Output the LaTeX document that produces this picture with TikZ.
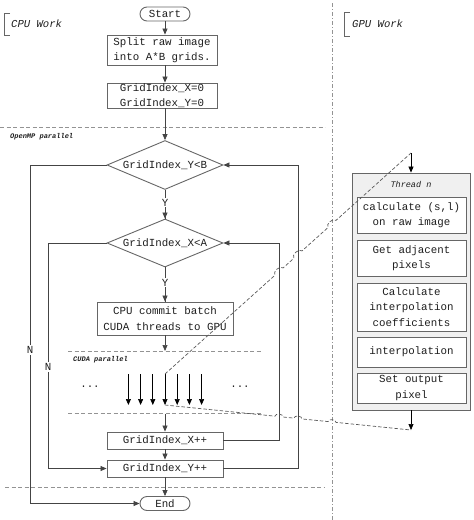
\documentclass[tikz,border=0pt]{standalone}
\usepackage{fontspec}
\setmonofont{Liberation Mono}
\usetikzlibrary{shapes.geometric,arrows.meta,calc}
\definecolor{bordercol}{HTML}{666666}
\definecolor{linecol}{HTML}{444444}
\definecolor{textcol}{HTML}{1E1E1E}
\definecolor{threadfill}{HTML}{F0F0F0}
\begin{document}
\begin{tikzpicture}[x=1pt,y=-1pt,
  font=\ttfamily\fontsize{10.8}{15.5}\selectfont,
  box/.style={draw=bordercol,line width=0.9pt,fill=white,align=center,inner sep=0pt,text=textcol},
  term/.style={box,rounded corners=7pt},
  dec/.style={box,diamond,aspect=2.37},
  arr/.style={draw=linecol,line width=0.7pt,-{Triangle[length=6pt,width=5pt]}},
  sepline/.style={draw=gray!85,line width=0.7pt,dash pattern=on 4pt off 2.5pt},
  dsh/.style={draw=gray!70!black,line width=0.7pt,dash pattern=on 3.5pt off 2pt},
  lbl/.style={fill=white,inner sep=1pt,text=textcol},
  ital/.style={font=\ttfamily\itshape\fontsize{10.6}{12}\selectfont,text=textcol,anchor=west,inner sep=0pt},
  small/.style={font=\ttfamily\bfseries\itshape\fontsize{7}{8}\selectfont,text=textcol,anchor=west,inner sep=0pt}
]
\useasboundingbox (0,0) rectangle (474,520);

% separators
\draw[sepline] (0,127) coordinate (s1a) -- (325,127) coordinate (s1b);
\draw[sepline] (68,351) coordinate (s2a) -- (262,351) coordinate (s2b);
\draw[sepline] (68,413) coordinate (s3a) -- (262,413) coordinate (s3b);
\draw[sepline] (5,487) coordinate (s4a) -- (325,487) coordinate (s4b);
\draw[draw=gray!85,line width=0.7pt,dash pattern=on 4pt off 2pt on 1pt off 2pt] (332,3) coordinate (va) -- (332,520) coordinate (vb);

% work labels
\draw[bordercol,line width=0.8pt] (10,13) -- (4,13) -- (4,35) -- (10,35);
\node[ital] (cpuw) at (11,24) {CPU Work};
\draw[bordercol,line width=0.8pt] (350,12) -- (344,12) -- (344,36) -- (350,36);
\node[ital] (gpuw) at (352,24) {GPU Work};
\node[small] (omp) at (10,137) {OpenMP parallel};
\node[small] (cuda) at (73,360) {CUDA parallel};

% main flow
\node[term,minimum width=50pt,minimum height=14pt] (start) at (165,14) {Start};
\node[box,minimum width=110pt,minimum height=30pt] (split) at (162,50) {Split raw image\\into A*B grids.};
\node[box,minimum width=110pt,minimum height=25pt] (grid) at (162,95.5) {GridIndex\_X=0\\GridIndex\_Y=0};
\node[dec,minimum width=116pt,minimum height=49pt] (yb) at (165,165) {GridIndex\_Y<B};
\node[dec,minimum width=116pt,minimum height=48pt] (xa) at (165,243) {GridIndex\_X<A};
\node[box,minimum width=136pt,minimum height=33pt] (cpu) at (165,318.5) {CPU commit batch\\CUDA threads to GPU};
\node[box,minimum width=116pt,minimum height=17pt] (xpp) at (165,440.5) {GridIndex\_X++};
\node[box,minimum width=116pt,minimum height=17pt] (ypp) at (165,468.5) {GridIndex\_Y++};
\node[term,minimum width=50pt,minimum height=14pt] (end) at (165,503.5) {End};

\draw[arr] (start.south) -- (start.south |- split.north);
\draw[arr] (start.south |- split.south) -- (start.south |- grid.north);
\draw[arr] (start.south |- grid.south) -- (yb.north);
\draw[linecol,line width=0.7pt] (yb.south) -- (xa.north) node[lbl,pos=0.45] (y1) {Y};
\draw[arr] (y1.south) -- (xa.north);
\draw[linecol,line width=0.7pt] (xa.south) -- (cpu.north) node[lbl,pos=0.45] (y2) {Y};
\draw[arr] (y2.south) -- (cpu.north);
\coordinate (c1) at (165,351);
\draw[arr] (cpu.south) -- (c1);
\coordinate (c2) at (165,414);
\draw[arr] (c2) -- (xpp.north);
\draw[arr] (xpp.south) -- (ypp.north);
\draw[arr] (ypp.south) -- (end.north);

% CUDA arrows
\foreach \i/\xx in {0/128.4,1/140.6,2/152.8,3/165,4/177.2,5/189.4,6/201.6}{
  \coordinate (t\i) at (\xx,374);
  \coordinate (b\i) at (\xx,405);
  \draw[line width=0.7pt,-{Triangle[length=6pt,width=5pt]}] (t\i) -- (b\i);
}
\node[text=textcol,inner sep=0pt] (dl) at (90,387) {...};
\node[text=textcol,inner sep=0pt] (dr) at (240,387) {...};

% loops left
\coordinate (nL) at (30,0);
\coordinate (nI) at (48,0);
\draw[arr] (yb.west) -- (yb.west -| nL) -- (end.west -| nL) -- (end.west);
\draw[arr] (xa.west) -- (xa.west -| nI) -- (ypp.west -| nI) -- (ypp.west);
\node[lbl] (n1) at (30,350) {N};
\node[lbl] (n2) at (48,367) {N};

% loops right
\coordinate (rA) at (279,0);
\coordinate (rB) at (298,0);
\draw[arr] (xpp.east) -- (xpp.east -| rA) -- (xa.east -| rA) -- (xa.east);
\draw[arr] (ypp.east) -- (ypp.east -| rB) -- (yb.east -| rB) -- (yb.east);

% thread box
\node[draw=bordercol,line width=0.9pt,fill=threadfill,minimum width=118pt,minimum height=237pt,inner sep=0pt] (thread) at (411,291.5) {};
\node[font=\ttfamily\itshape\fontsize{8.5}{10}\selectfont,text=textcol,inner sep=0pt] (ttl) at (411,184) {Thread n};
\node[box,minimum width=109pt,minimum height=36pt] (g1) at (411.5,215) {calculate (s,l)\\on raw image};
\node[box,minimum width=109pt,minimum height=36pt] (g2) at (411.5,258) {Get adjacent\\pixels};
\node[box,minimum width=109pt,minimum height=48pt] (g3) at (411.5,307) {Calculate\\interpolation\\coefficients};
\node[box,minimum width=109pt,minimum height=30pt] (g4) at (411.5,352) {interpolation};
\node[box,minimum width=109pt,minimum height=30pt] (g5) at (411.5,388) {Set output\\pixel};
\coordinate (tin) at (411,153);
\coordinate (tout) at (411,430);
\draw[arr,draw=black] (tin) -- (thread.north);
\draw[arr,draw=black] (thread.south) -- (tout);

% dashed mapping lines with hops
\draw[dsh] (t3) -- ($(t3)!0.447!(tin)$) to[bend left=90] ($(t3)!0.480!(tin)$)
  -- ($(t3)!0.524!(tin)$) to[bend left=90] ($(t3)!0.557!(tin)$)
  -- ($(t3)!0.663!(tin)$) to[bend left=90] ($(t3)!0.695!(tin)$) -- (tin);
\draw[dsh] (b3) -- ($(b3)!0.447!(tout)$) to[bend left=90] ($(b3)!0.480!(tout)$)
  -- ($(b3)!0.524!(tout)$) to[bend left=90] ($(b3)!0.557!(tout)$)
  -- ($(b3)!0.663!(tout)$) to[bend left=90] ($(b3)!0.695!(tout)$) -- (tout);
\end{tikzpicture}
\end{document}
